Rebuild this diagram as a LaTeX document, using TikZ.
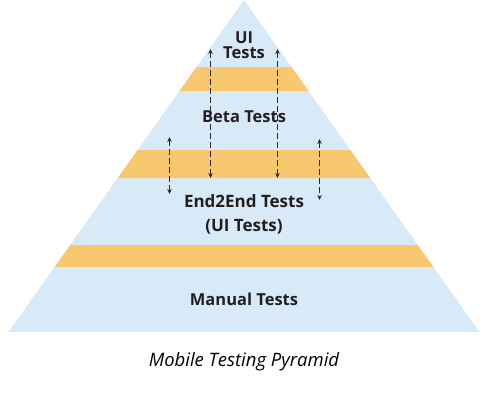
\documentclass[tikz,border=0pt]{standalone}
\usepackage{fontspec}
\setmainfont{Open Sans}
\newfontfamily\capfont{Open Sans}
\usetikzlibrary{arrows.meta}
\definecolor{pblue}{HTML}{D8E9F7}
\definecolor{porange}{HTML}{F8C86E}
\definecolor{darrow}{HTML}{2A2A2A}
\definecolor{ptext}{HTML}{231F20}
\tikzset{
  lbl/.style={font=\bfseries\fontsize{16.5}{18}\selectfont, text=ptext, align=center, inner sep=0pt},
  dblarrow/.style={darrow, line width=1.3pt, dash pattern=on 6pt off 3pt, {Stealth[length=5pt,width=4.5pt]}-{Stealth[length=5pt,width=4.5pt]}},
}
\begin{document}
\begin{tikzpicture}[x=1pt,y=-1pt]
\useasboundingbox (0,0) rectangle (489,400);
% pyramid
\fill[pblue] (244,0) -- (479.5,332) -- (8.5,332) -- cycle;
% bands: half-width = 0.7093*y
\foreach \ya/\yb in {67/91, 150/178, 245/267}{
  \pgfmathsetmacro{\wa}{0.7093*\ya}
  \pgfmathsetmacro{\wb}{0.7093*\yb}
  \fill[porange] (244-\wa,\ya) -- (244+\wa,\ya) -- (244+\wb,\yb) -- (244-\wb,\yb) -- cycle;
}
% labels
\node[lbl, font=\bfseries\fontsize{16.5}{15}\selectfont] (ui) at (244,45) {UI\\Tests};
\node[lbl] (beta) at (244,117) {Beta Tests};
\node[lbl, font=\bfseries\fontsize{17}{24}\selectfont] (e2e) at (244,214) {End2End Tests\\(UI Tests)};
\node[lbl] (manual) at (244,299) {Manual Tests};
\node[font=\capfont\itshape\fontsize{18.5}{20}\selectfont, inner sep=0pt] (cap) at (244,362) {Mobile Testing Pyramid};
% arrows
\coordinate (a1t) at (210.5,49);  \coordinate (a1b) at (210.5,178);
\coordinate (a2t) at (277.5,49);  \coordinate (a2b) at (277.5,178);
\coordinate (a3t) at (169.5,137); \coordinate (a3b) at (169.5,194);
\coordinate (a4t) at (319.5,139); \coordinate (a4b) at (319.5,200);
\draw[dblarrow] (a1t) -- (a1b);
\draw[dblarrow] (a2t) -- (a2b);
\draw[dblarrow] (a3t) -- (a3b);
\draw[dblarrow] (a4t) -- (a4b);
\end{tikzpicture}
\end{document}
